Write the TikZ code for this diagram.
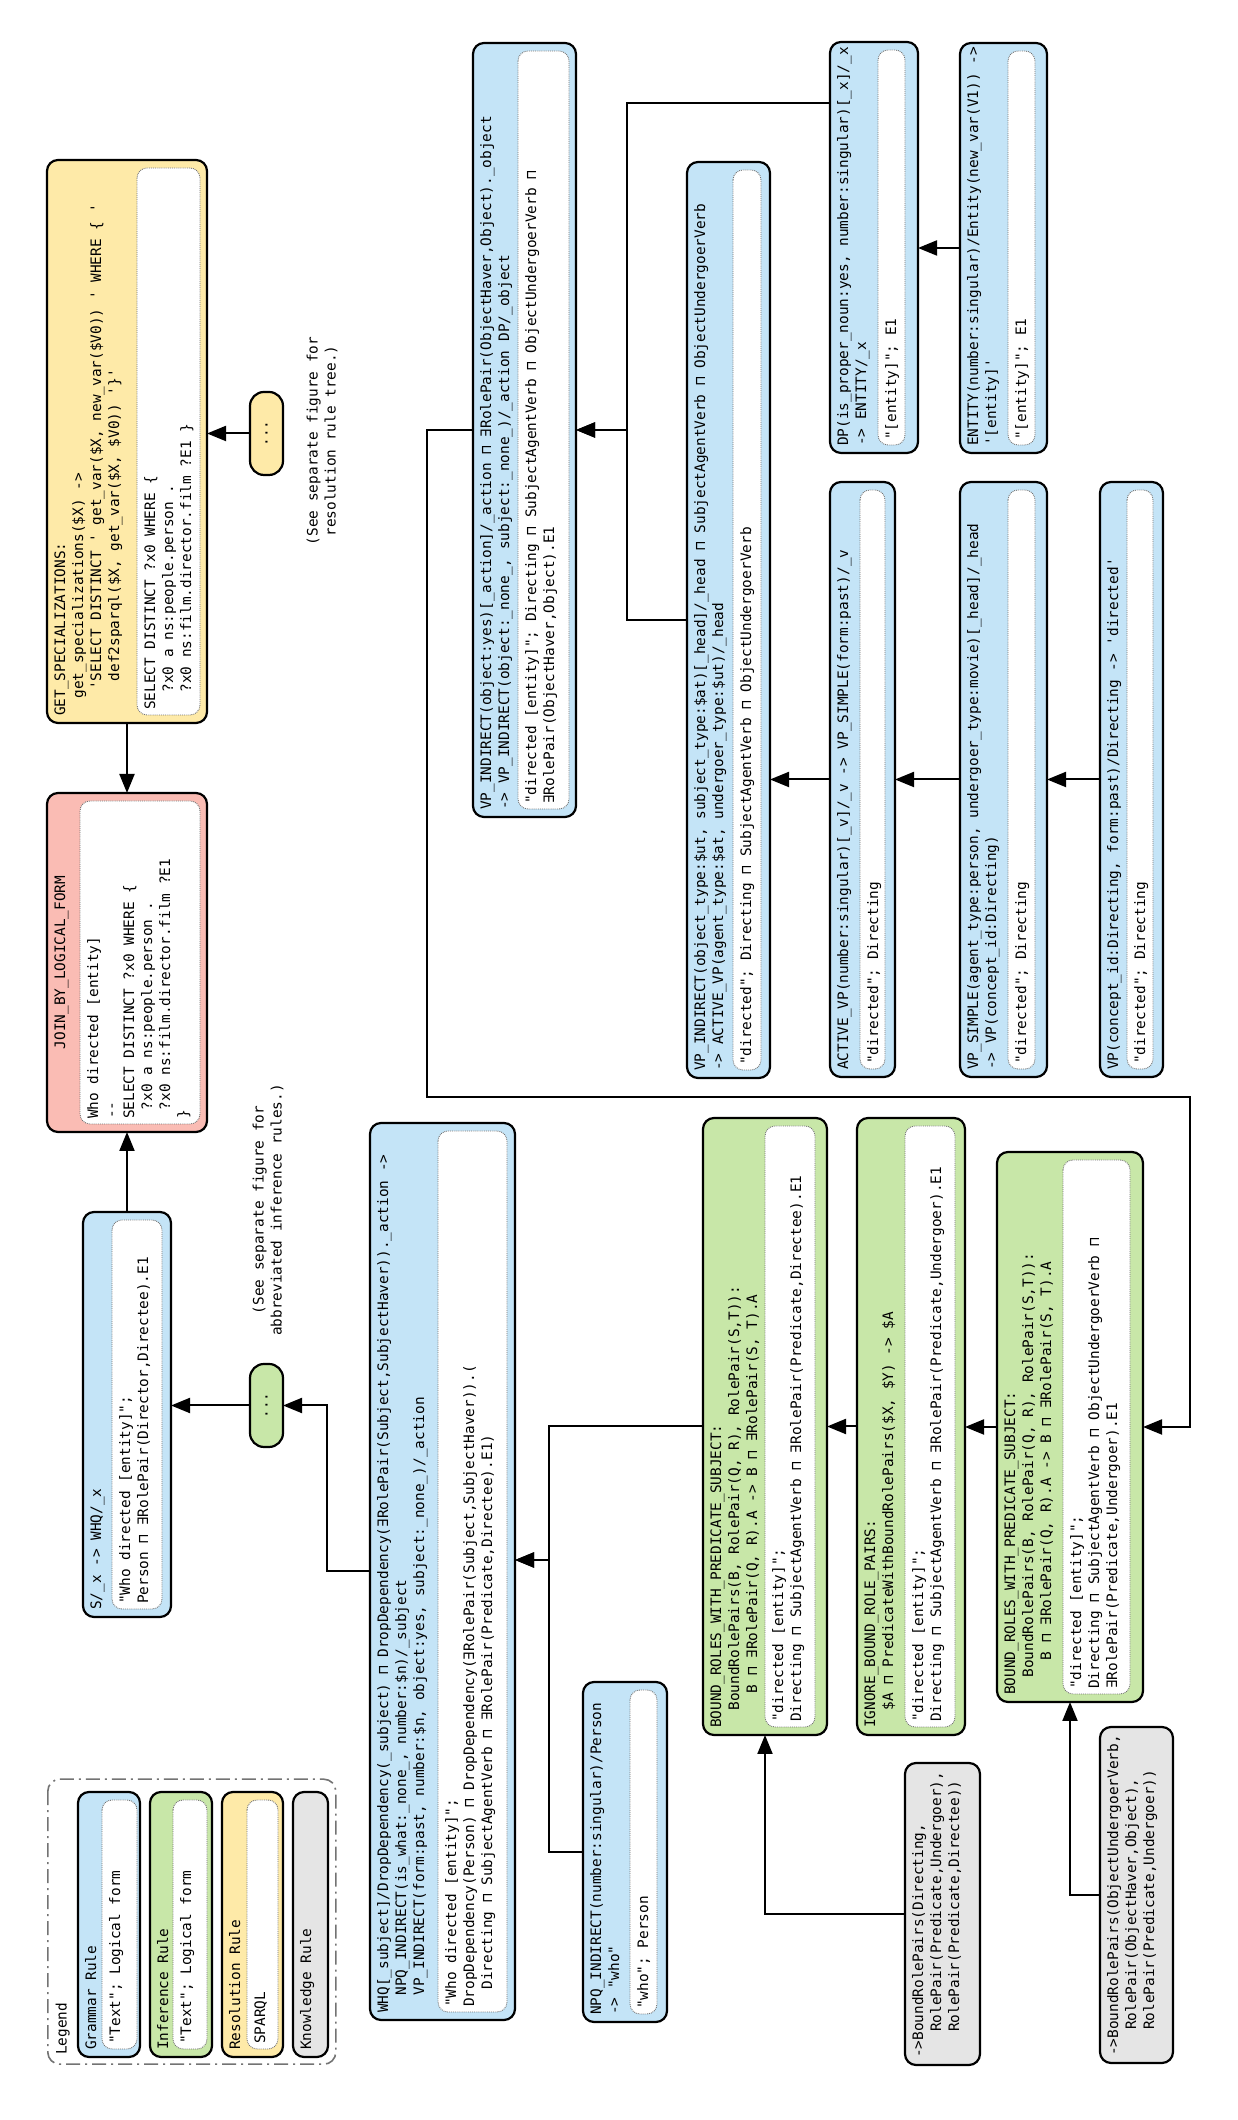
\documentclass[tikz,border=0pt]{standalone}
\usepackage{fontspec}
\newfontfamily\monof{DejaVu Sans Mono}
\usetikzlibrary{arrows.meta,calc}
\definecolor{gblue}{RGB}{196,228,247}
\definecolor{igreen}{RGB}{200,231,168}
\definecolor{ryellow}{RGB}{254,234,168}
\definecolor{jred}{RGB}{250,188,180}
\definecolor{kgray}{RGB}{229,229,229}
\tikzset{
 rbox/.style={draw=black, line width=2.2pt, rounded corners=11pt, inner sep=0pt, outer sep=0pt},
 ibox/.style={draw=black!55, densely dotted, line width=0.9pt, fill=white, rounded corners=10pt, inner sep=0pt, outer sep=0pt},
 txt/.style={font=\monof\fontsize{14.4}{18}\selectfont, align=left, inner sep=0pt, text=black},
 arr/.style={draw=black, line width=2pt, -{Triangle[length=19pt,width=15pt]}},
 dotbox/.style={rbox, rounded corners=14pt, minimum width=83pt, minimum height=33pt, font=\monof\fontsize{14.4}{18}\selectfont},
 legframe/.style={draw=black!55, line width=1.6pt, dash pattern=on 14pt off 5pt on 2pt off 5pt, rounded corners=12pt, inner sep=0pt},
}
% #1 name #2 fill #3 left ix #4 right ix #5 top iy #6 bottom iy #7 inner left ix #8 inner right ix #9 header
\newcommand\rulebox[9]{%
 \node[rbox, fill=#2, minimum width={#6-#5}, minimum height={#4-#3}, anchor=north west] (#1) at ({2120-#6},{-#3}) {};
 \node[txt, anchor=north west] (#1h) at ({2120-#6+7},{-#3-5.4}) {\strut#9};
 \node[ibox, minimum width={#6-#5-16}, minimum height={#8-#7}, anchor=north west] (#1i) at ({2120-#6+8},{-#7}) {};
}
\newcommand\innertext[2]{\node[txt, anchor=north west] (#1t) at ($(#1i.north west)+(5,-5.4)$) {\strut#2};}
\newcommand\kbbox[7]{%
 \node[rbox, fill=#2, minimum width={#6-#5}, minimum height={#4-#3}, anchor=north west] (#1) at ({2120-#6},{-#3}) {};
 \node[txt, anchor=north west] (#1h) at ({2120-#6+7},{-#3-5.4}) {\strut#7};
}
\begin{document}
\begin{tikzpicture}[x=1pt,y=1pt]
\begin{scope}[rotate=90, transform shape]
\path[use as bounding box] (0,-1238) rectangle (2120,0);

% ---------- legend ----------
\node[legframe, minimum width=285, minimum height=288, anchor=north west] (legend) at ({2120-2065},{-47}) {};
\node[txt, anchor=base west] (legt) at (65,-66.5) {Legend};
\rulebox{lgram}{gblue}{78}{140}{1792}{2057}{102}{137}{Grammar Rule}
\innertext{lgram}{"Text"; Logical form}
\rulebox{linf}{igreen}{150}{212}{1792}{2057}{173}{207}{Inference Rule}
\innertext{linf}{"Text"; Logical form}
\rulebox{lres}{ryellow}{222}{283}{1792}{2057}{247}{278}{Resolution Rule}
\innertext{lres}{SPARQL}
\kbbox{lknow}{kgray}{293}{328}{1792}{2057}{Knowledge Rule}

% ---------- resolution side ----------
\rulebox{get}{ryellow}{47}{207}{160}{723}{137}{200}{GET\_SPECIALIZATIONS:\\\phantom{xx}get\_specializations(\$X) ->\\\phantom{xxx}'SELECT DISTINCT ' get\_var(\$X, new\_var(\$V0)) ' WHERE \{ '\\\phantom{xxxx}def2sparql(\$X, get\_var(\$X, \$V0)) '\}'}
\innertext{get}{SELECT DISTINCT ?x0 WHERE \{\\\phantom{xx}?x0 a ns:people.person .\\\phantom{xx}?x0 ns:film.director.film ?E1 \}}

\rulebox{join}{jred}{47}{207}{793}{1132}{80}{200}{}
\node[txt, anchor=north] (jointitle) at ($(join.north)+(0,-5.4)$) {\strut JOIN\_BY\_LOGICAL\_FORM};
\innertext{join}{Who directed [entity]\\-{}-\\SELECT DISTINCT ?x0 WHERE \{\\\phantom{x}?x0 a ns:people.person .\\\phantom{x}?x0 ns:film.director.film ?E1\\\}}

\node[dotbox, fill=ryellow] (ydots) at ({2120-433.5},{-266.5}) {...};
\node[txt, align=center] (yann) at ({2120-441},{-322}) {(See separate figure for\\resolution rule tree.)};

% ---------- grammar / inference ----------
\rulebox{s}{gblue}{83}{171}{1212}{1617}{112}{162}{S/\_x -> WHQ/\_x}
\innertext{s}{"Who directed [entity]";\\Person ⊓ ∃RolePair(Director,Directee).E1}

\node[dotbox, fill=igreen] (gdots) at ({2120-1405.5},{-266.5}) {...};
\node[txt, align=center] (gann) at ({2120-1210},{-268}) {(See separate figure for\\abbreviated inference rules.)};

\rulebox{whq}{gblue}{370}{515}{1123}{2020}{438}{507}{WHQ[\_subject]/DropDependency(\_subject) ⊓ DropDependency(∃RolePair(Subject,SubjectHaver)).\_action ->\\\phantom{xx}NPQ\_INDIRECT(is\_what:\_none\_, number:\$n)/\_subject\\\phantom{xx}VP\_INDIRECT(form:past, number:\$n, object:yes, subject:\_none\_)/\_action}
\innertext{whq}{"Who directed [entity]";\\DropDependency(Person) ⊓ DropDependency(∃RolePair(Subject,SubjectHaver)).(\\\phantom{xx}Directing ⊓ SubjectAgentVerb ⊓ ∃RolePair(Predicate,Directee).E1)}

\rulebox{npq}{gblue}{583}{667}{1682}{2022}{630}{657}{NPQ\_INDIRECT(number:singular)/Person\\-> "who"}
\innertext{npq}{"who"; Person}

\rulebox{brpa}{igreen}{703}{827}{1118}{1735}{765}{815}{BOUND\_ROLES\_WITH\_PREDICATE\_SUBJECT:\\\phantom{xx}BoundRolePairs(B, RolePair(Q, R), RolePair(S,T)):\\\phantom{xxxx}B ⊓ ∃RolePair(Q, R).A -> B ⊓ ∃RolePair(S, T).A}
\innertext{brpa}{"directed [entity]";\\Directing ⊓ SubjectAgentVerb ⊓ ∃RolePair(Predicate,Directee).E1}

\rulebox{ign}{igreen}{857}{965}{1118}{1735}{905}{955}{IGNORE\_BOUND\_ROLE\_PAIRS:\\\phantom{xx}\$A ⊓ PredicateWithBoundRolePairs(\$X, \$Y) -> \$A}
\innertext{ign}{"directed [entity]";\\Directing ⊓ SubjectAgentVerb ⊓ ∃RolePair(Predicate,Undergoer).E1}

\rulebox{brpb}{igreen}{997}{1143}{1152}{1702}{1063}{1130}{BOUND\_ROLES\_WITH\_PREDICATE\_SUBJECT:\\\phantom{xx}BoundRolePairs(B, RolePair(Q, R), RolePair(S,T)):\\\phantom{xxxx}B ⊓ ∃RolePair(Q, R).A -> B ⊓ ∃RolePair(S, T).A}
\innertext{brpb}{"directed [entity]";\\Directing ⊓ SubjectAgentVerb ⊓ ObjectUndergoerVerb ⊓\\∃RolePair(Predicate,Undergoer).E1}

\kbbox{kba}{kgray}{905}{980}{1763}{2065}{->BoundRolePairs(Directing,\\\phantom{xxx}RolePair(Predicate,Undergoer),\\\phantom{xxx}RolePair(Predicate,Directee))}
\kbbox{kbb}{kgray}{1100}{1173}{1727}{2063}{->BoundRolePairs(ObjectUndergoerVerb,\\\phantom{xxx}RolePair(ObjectHaver,Object),\\\phantom{xxx}RolePair(Predicate,Undergoer))}

\rulebox{vpo}{gblue}{473}{576}{43}{817}{518}{569}{VP\_INDIRECT(object:yes)[\_action]/\_action ⊓ ∃RolePair(ObjectHaver,Object).\_object\\-> VP\_INDIRECT(object:\_none\_, subject:\_none\_)/\_action DP/\_object}
\innertext{vpo}{"directed [entity]"; Directing ⊓ SubjectAgentVerb ⊓ ObjectUndergoerVerb ⊓\\∃RolePair(ObjectHaver,Object).E1}

\rulebox{vps}{gblue}{687}{770}{162}{1078}{733}{761}{VP\_INDIRECT(object\_type:\$ut, subject\_type:\$at)[\_head]/\_head ⊓ SubjectAgentVerb ⊓ ObjectUndergoerVerb\\-> ACTIVE\_VP(agent\_type:\$at, undergoer\_type:\$ut)/\_head}
\innertext{vps}{"directed"; Directing ⊓ SubjectAgentVerb ⊓ ObjectUndergoerVerb}

\rulebox{dp}{gblue}{830}{918}{42}{453}{878}{905}{DP(is\_proper\_noun:yes, number:singular)[\_x]/\_x\\-> ENTITY/\_x}
\innertext{dp}{"[entity]"; E1}

\rulebox{ent}{gblue}{960}{1047}{43}{453}{1008}{1035}{ENTITY(number:singular)/Entity(new\_var(V1)) ->\\'[entity]'}
\innertext{ent}{"[entity]"; E1}

\rulebox{act}{gblue}{830}{895}{482}{1077}{860}{885}{ACTIVE\_VP(number:singular)[\_v]/\_v -> VP\_SIMPLE(form:past)/\_v}
\innertext{act}{"directed"; Directing}

\rulebox{vsim}{gblue}{960}{1047}{482}{1077}{1008}{1035}{VP\_SIMPLE(agent\_type:person, undergoer\_type:movie)[\_head]/\_head\\-> VP(concept\_id:Directing)}
\innertext{vsim}{"directed"; Directing}

\rulebox{vp}{gblue}{1100}{1163}{482}{1077}{1127}{1153}{VP(concept\_id:Directing, form:past)/Directing -> 'directed'}
\innertext{vp}{"directed"; Directing}

% ---------- connectors ----------
\draw[arr] (get.west) -- (join.east);
\draw[arr] (ydots.north) -- (ydots.north |- get.south);
\draw[arr] (s.east) -- (s.east -| join.west);
\draw[arr] (gdots.north) -- (gdots.north |- s.south);
\draw[arr] (whq.north) -- ++(0,43) -| (gdots.south);
\draw[arr] (brpa.north) -- ++(0,154) -| ($(whq.south)+(11.5,0)$);
\draw[arr] (npq.north) -- ++(0,34) -| ($(whq.south)+(11.5,0)$);
\draw[arr] (ign.north) -- (brpa.south);
\draw[arr] (brpb.north) -- (brpb.north |- ign.south);
\draw[arr] (kba.north) |- (brpa.west);
\draw[arr] (kbb.north) |- (brpb.west);
\draw[arr] (vpo.north) -- ++(0,46) -- (1023,-427) -- (1023,-1190) -| (brpb.south);
\draw[arr] ($(dp.north)+(144.5,0)$) -- ++(0,203) -| (vpo.south);
\draw[arr] (vps.north) -- ++(0,60) -| (vpo.south);
\draw[arr] (ent.north) -- (ent.north |- dp.south);
\draw[arr] (act.north) -- (act.north |- vps.south);
\draw[arr] (vsim.north) -- (vsim.north |- act.south);
\draw[arr] (vp.north) -- (vp.north |- vsim.south);
\end{scope}
\end{tikzpicture}
\end{document}
